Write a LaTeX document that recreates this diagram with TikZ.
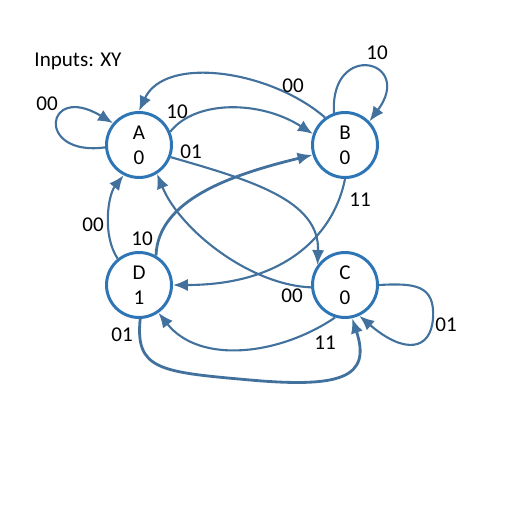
\documentclass[tikz,border=0pt]{standalone}
\usepackage{fontspec}
\setmainfont{Carlito}
\usetikzlibrary{arrows.meta}

\definecolor{stateblue}{RGB}{46,117,182}
\definecolor{edgeblue}{RGB}{65,113,156}

\begin{document}
\begin{tikzpicture}[x=0.02cm,y=-0.02cm,
    every node/.style={font=\fontsize{12}{14.2}\selectfont},
    state/.style={circle,draw=stateblue,line width=1.7pt,minimum size=1.3cm,inner sep=0pt,align=center},
    trans/.style={draw=edgeblue,line width=1.2pt,-{Latex[length=8.5pt,width=7pt]}},
    heavy/.style={trans,line width=1.6pt},
    lbl/.style={inner sep=0pt}]

    \useasboundingbox (0,0) rectangle (514,519); %page size

    \node[lbl] (inputs) at (78,61) {Inputs: XY};

    %states
    \node[state] (A) at (139,145) {A\\0};
    \node[state] (B) at (345,145) {B\\0};
    \node[state] (C) at (345,285) {C\\0};
    \node[state] (D) at (139,285) {D\\1};

    %transitions out of A
    \draw[trans] (A.184) .. controls (35,157) and (45,82) .. (A.140);
    \draw[trans] (A.23) .. controls (195,100) and (260,100) .. (B.161);
    \draw[trans] (A.339) .. controls (250,180) and (320,200) .. (C.144);

    %transitions out of B
    \draw[trans] (B.126) .. controls (270,70) and (165,55) .. (A.90);
    \draw[trans] (B.109) .. controls (330,40) and (415,60) .. (B.44);
    \draw[trans] (B.270) .. controls (335,230) and (290,285) .. (D.0);

    %transitions out of C
    \draw[trans] (C.184) .. controls (250,285) and (180,230) .. (A.302);
    \draw[trans] (C.253) .. controls (280,355) and (200,365) .. (D.305);
    \draw[trans] (C.0) .. controls (415,283) and (435,285) .. (433,318)
        .. controls (431,350) and (405,355) .. (C.295);

    %transitions out of D
    \draw[trans] (D.129) .. controls (102,235) and (108,195) .. (A.243);
    \draw[heavy] (D.60) .. controls (158,200) and (230,175) .. (B.197);
    \draw[heavy] (D.272) .. controls (135,370) and (160,372) .. (250,380)
        .. controls (340,388) and (372,378) .. (C.282);

    %input labels
    \node[lbl] (lAA) at (47,104) {00};
    \node[lbl] (lAB) at (177,112) {10};
    \node[lbl] (lAC) at (191,152) {01};
    \node[lbl] (lBA) at (293,86) {00};
    \node[lbl] (lBB) at (377,53) {10};
    \node[lbl] (lBD) at (360,200) {11};
    \node[lbl] (lCA) at (292,296) {00};
    \node[lbl] (lCD) at (325,343) {11};
    \node[lbl] (lCC) at (446,325) {01};
    \node[lbl] (lDA) at (93,225) {00};
    \node[lbl] (lDB) at (142,239) {10};
    \node[lbl] (lDC) at (122,335) {01};

\end{tikzpicture}
\end{document}
